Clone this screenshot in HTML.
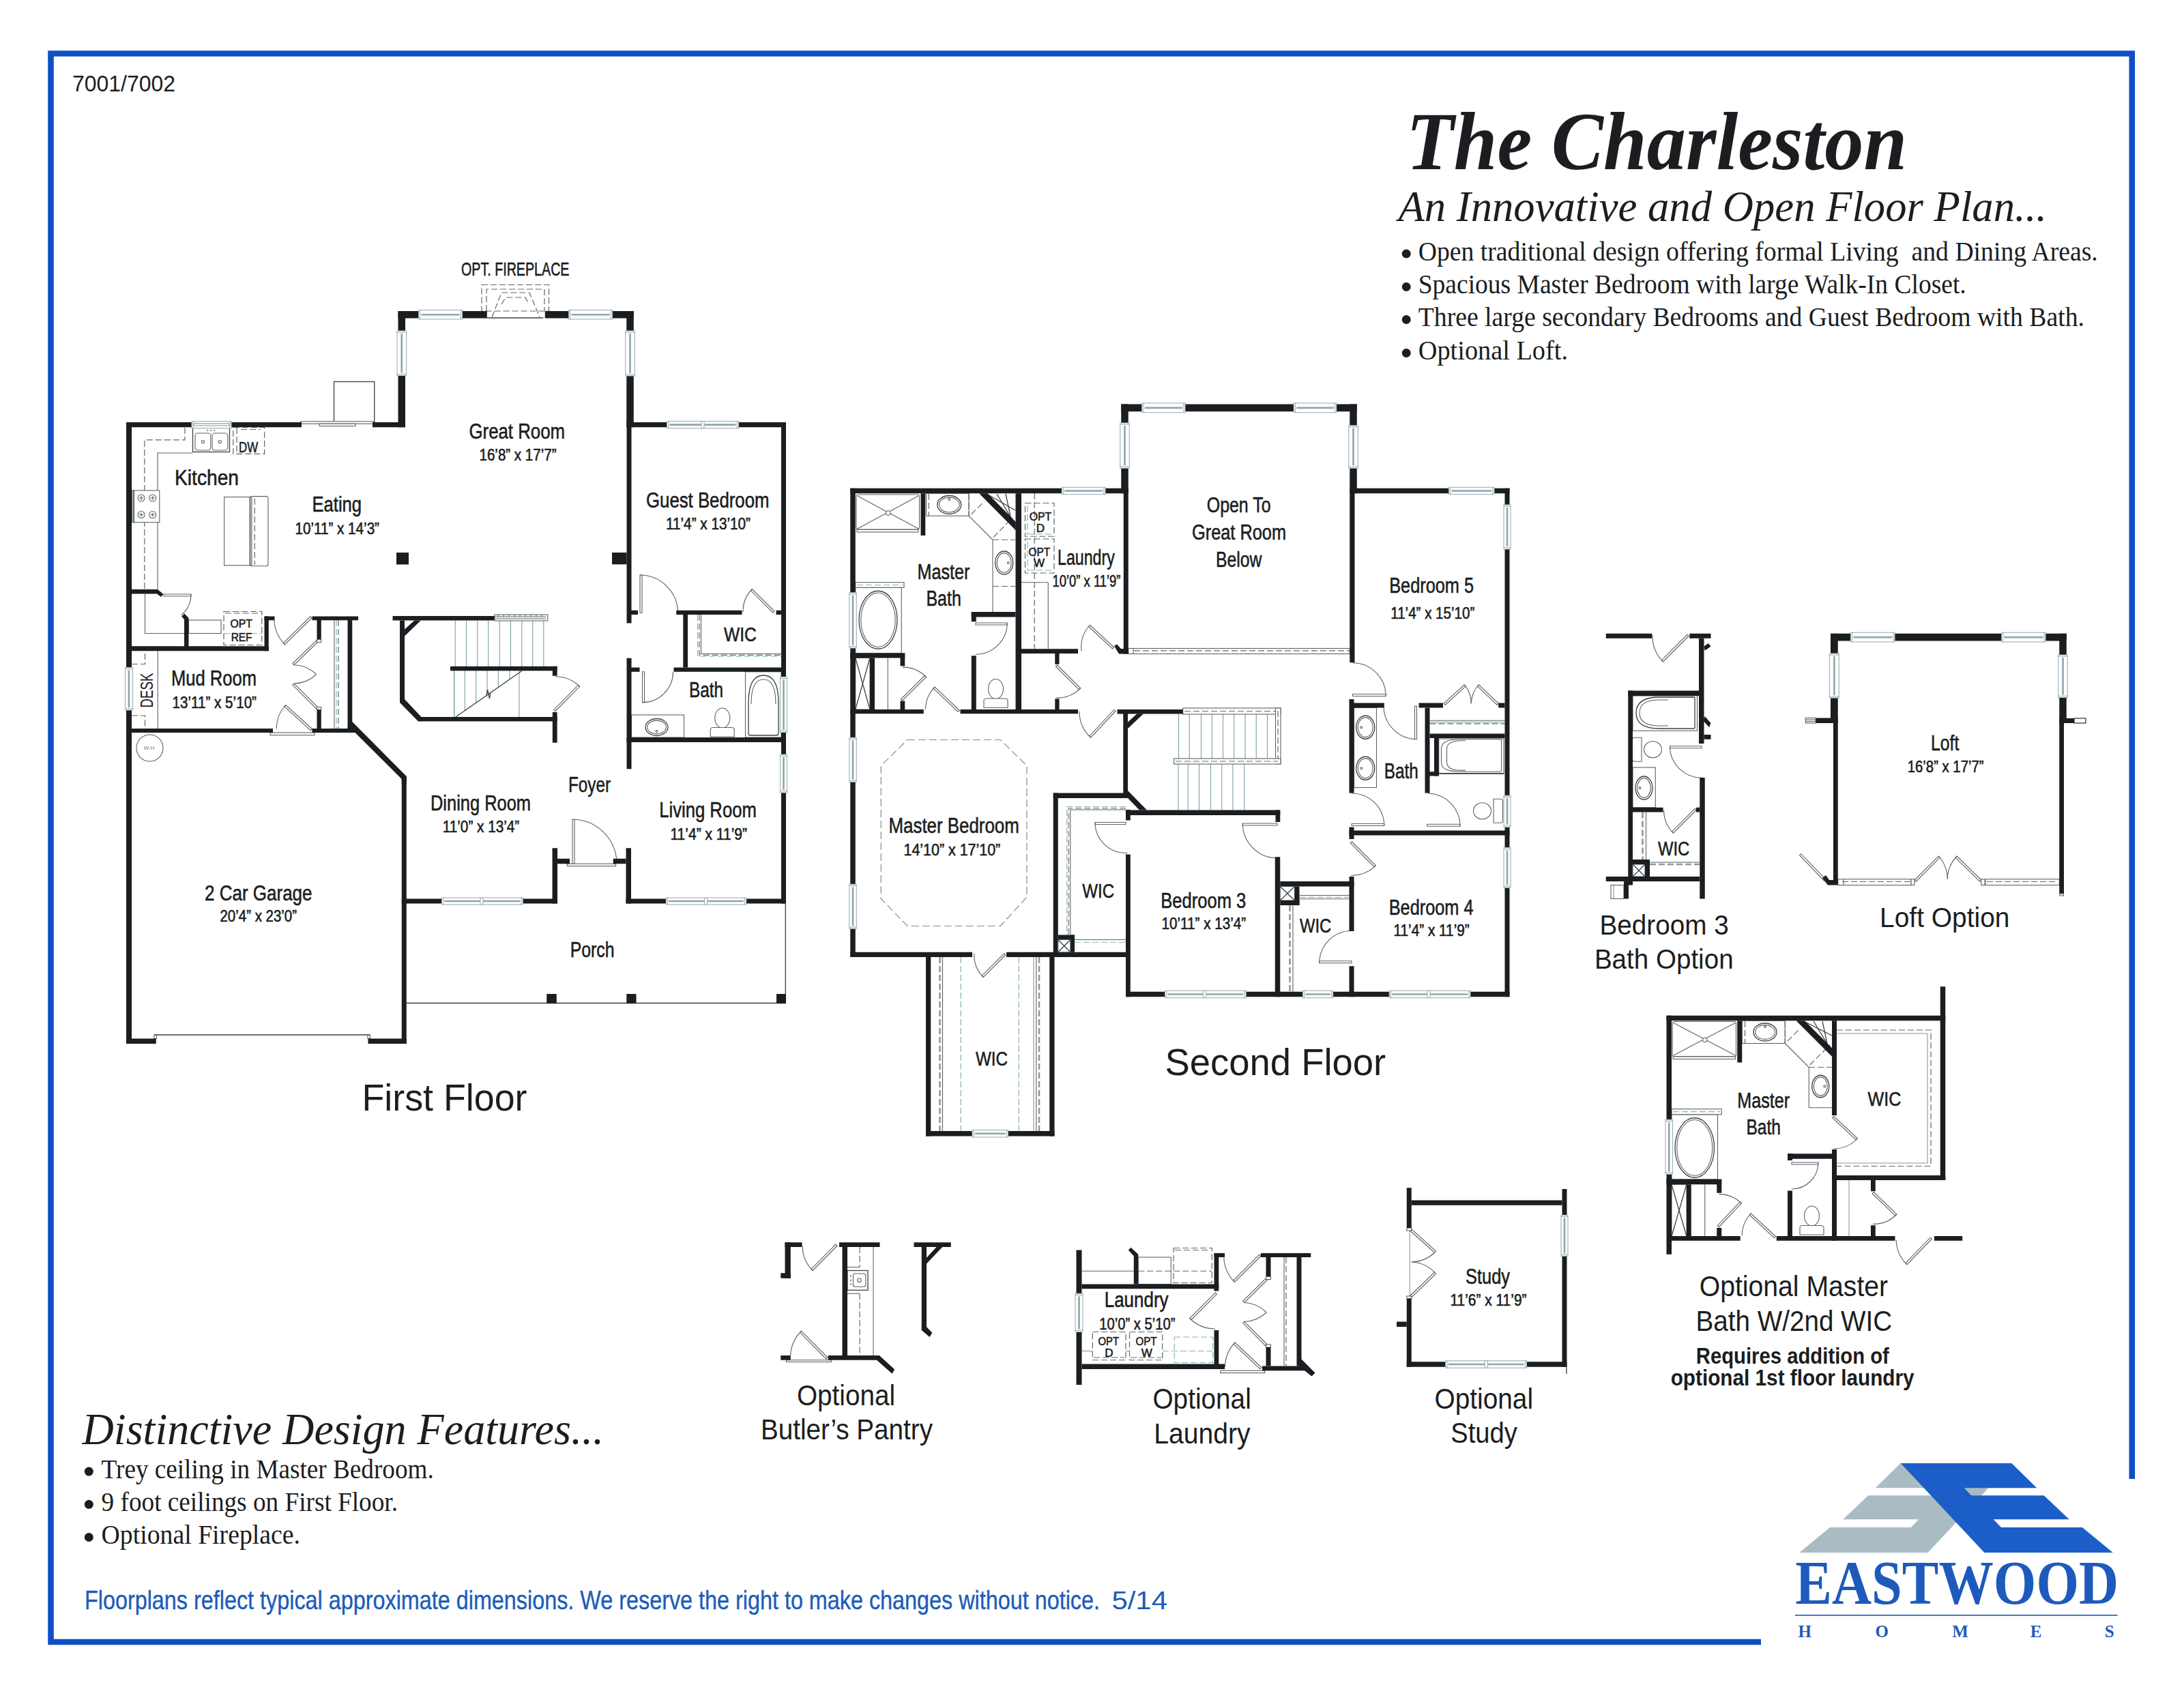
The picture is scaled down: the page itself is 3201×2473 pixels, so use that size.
<!DOCTYPE html>
<html><head><meta charset="utf-8">
<style>
html,body{margin:0;padding:0;background:#fff;}
body{width:3201px;height:2473px;overflow:hidden;font-family:"Liberation Sans",sans-serif;}
svg{position:absolute;left:0;top:0;display:block}
.w{fill:#1b1d20;stroke:none}
.t{stroke:#5b6366;stroke-width:1.1;fill:none}
.tk{stroke:#3a4043;stroke-width:1.3;fill:none}
.tc{stroke:#7b9ea3;stroke-width:1.1;fill:none}
.tw{stroke:#5b6366;stroke-width:1.1;fill:#fff}
.d{stroke:#5f686b;stroke-width:1.2;fill:none;stroke-dasharray:9 4}
.dc{stroke:#86b3b6;stroke-width:1.2;fill:none;stroke-dasharray:9 4}
.dk2{stroke:#9a9499;stroke-width:1.6;fill:none;stroke-dasharray:9 4}
.dg{stroke:#7c8f92;stroke-width:1.2;fill:none;stroke-dasharray:11 5}
.dk{stroke:#9a9499;stroke-width:2.6;fill:none;stroke-dasharray:9 4}
.win{fill:#fff;stroke:#9db0b5;stroke-width:1.1}
.wbar{stroke:#8ea6ab;stroke-width:2.6;fill:none}
.wing{fill:#e9eef0;stroke:#7d8f95;stroke-width:0.8}
.wl2{stroke:#8fa5ab;stroke-width:0.9;fill:none}
text{font-family:"Liberation Sans",sans-serif;fill:#1b1d20}
.lb{fill:#1c5ec8}.lg{fill:#a9bcc3}
.c{stroke:#1b1d20;stroke-width:0.6px}
.s{font-family:"Liberation Serif",serif}
</style></head><body>
<svg width="3201" height="2473" viewBox="0 0 3201 2473">
<path d="M2581 2407H74.5V78.5H3124.8V2168" fill="none" stroke="#0f4fc6" stroke-width="8.6"/>
<g id="f1">
<line class="tk" x1="595.75" y1="1470.5" x2="1152" y2="1470.5"/>
<line class="tk" x1="1151.3" y1="1324.5" x2="1151.3" y2="1470.5"/>
<line class="tk" x1="226" y1="1517" x2="542.5" y2="1517"/>
<rect class="t" x="226" y="1517" width="3.5" height="5.5"/>
<rect class="t" x="539" y="1517" width="3.5" height="5.5"/>
<rect class="tk" x="489.5" y="559.5" width="59.25" height="59.25"/>
<rect class="tw" x="441" y="617.8" width="106.5" height="3.4"/>
<rect class="tw" x="468" y="621.2" width="53" height="3.4"/>
<polyline class="d" points="270.9,627 270.9,644.8 211.8,644.8 211.8,864"/>
<polyline class="t" points="282,664 231,664 231,864"/>
<polyline class="t" points="212.5,870.5 212.5,928.5 270,928.5"/>
<line class="dc" x1="276.5" y1="928.5" x2="384" y2="928.5"/>
<rect class="tk" x="282.5" y="627" width="54" height="35.5"/>
<rect class="t" x="286" y="635" width="22.75" height="25" rx="4"/>
<rect class="t" x="311" y="635" width="22.75" height="25" rx="4"/>
<circle class="t" cx="297.5" cy="647.5" r="2"/>
<circle class="t" cx="322.3" cy="647.5" r="2"/>
<circle cx="304.3" cy="631" r="0.9" fill="#555"/>
<circle cx="309.3" cy="631" r="0.9" fill="#555"/>
<circle cx="314.3" cy="631" r="0.9" fill="#555"/>
<rect class="d" x="341.8" y="626.5" width="45.8" height="38.9"/>
<line class="d" x1="347" y1="627" x2="347" y2="665"/>
<line class="d" x1="353" y1="629.5" x2="382" y2="629.5"/>
<rect class="tw" x="195.3" y="719" width="38.5" height="46.7"/>
<rect class="t" x="193.5" y="719" width="3" height="46.7"/>
<circle class="t" cx="207" cy="730" r="5"/>
<line class="t" x1="204" y1="730" x2="210" y2="730"/>
<line class="t" x1="207" y1="727" x2="207" y2="733"/>
<circle class="t" cx="207" cy="754.5" r="5"/>
<line class="t" x1="204" y1="754.5" x2="210" y2="754.5"/>
<line class="t" x1="207" y1="751.5" x2="207" y2="757.5"/>
<circle class="t" cx="223.75" cy="730" r="5"/>
<line class="t" x1="220.75" y1="730" x2="226.75" y2="730"/>
<line class="t" x1="223.75" y1="727" x2="223.75" y2="733"/>
<circle class="t" cx="223.75" cy="754.5" r="5"/>
<line class="t" x1="220.75" y1="754.5" x2="226.75" y2="754.5"/>
<line class="t" x1="223.75" y1="751.5" x2="223.75" y2="757.5"/>
<rect class="t" x="328.6" y="728.6" width="38.4" height="100.2"/>
<rect class="t" x="366" y="727.6" width="27" height="102.2" rx="3"/>
<line class="t" x1="369" y1="729" x2="369" y2="829"/>
<line class="d" x1="373.3" y1="731" x2="373.3" y2="828"/>
<rect class="d" x="328" y="896.5" width="55.75" height="49"/>
<line class="d" x1="330" y1="899" x2="382" y2="899"/>
<rect class="t" x="276.5" y="909" width="47.5" height="19.5"/>
<polyline class="d" points="193,973.5 212.5,973.5 212.5,954"/>
<polyline class="d" points="193,1049 212.5,1049 212.5,1068"/>
<line class="t" x1="231.25" y1="954" x2="231.25" y2="1068"/>
<circle class="t" cx="219.5" cy="1096.5" r="19.5"/>
<text x="219.5" y="1099" font-size="8" text-anchor="middle" style="fill:#777">W.H.</text>
<line class="t" x1="490" y1="909" x2="490" y2="1068"/>
<line class="dc" x1="493" y1="909" x2="493" y2="1068"/>
<line class="d" x1="496" y1="909" x2="496" y2="1068"/>
<rect class="t" x="396" y="1074" width="65" height="3.7"/>
<line class="tc" x1="667.2" y1="909.5" x2="667.2" y2="977"/>
<line class="tc" x1="683.5" y1="909.5" x2="683.5" y2="977"/>
<line class="tc" x1="699.8" y1="909.5" x2="699.8" y2="977"/>
<line class="tc" x1="715.7" y1="909.5" x2="715.7" y2="977"/>
<line class="tc" x1="732.2" y1="909.5" x2="732.2" y2="977"/>
<line class="tc" x1="748.5" y1="909.5" x2="748.5" y2="977"/>
<line class="tc" x1="764.8" y1="909.5" x2="764.8" y2="977"/>
<line class="tc" x1="780.7" y1="909.5" x2="780.7" y2="977"/>
<line class="tc" x1="796.8" y1="909.5" x2="796.8" y2="977"/>
<line class="tc" x1="665.7" y1="983.3" x2="665.7" y2="1051"/>
<line class="tc" x1="681.4" y1="983.3" x2="681.4" y2="1041.6"/>
<line class="tc" x1="697.7" y1="983.3" x2="697.7" y2="1030.24"/>
<line class="tc" x1="714" y1="983.3" x2="714" y2="1018.89"/>
<line class="tc" x1="730.3" y1="983.3" x2="730.3" y2="1007.54"/>
<line class="tc" x1="747" y1="983.3" x2="747" y2="995.91"/>
<line class="tc" x1="665.7" y1="983" x2="665.7" y2="1051"/>
<line class="tc" x1="760.9" y1="983.3" x2="760.9" y2="1051"/>
<line class="tk" x1="667.9" y1="1051" x2="765.1" y2="983.3"/>
<polyline class="tk" points="713,1019.5 714.5,1011 717.5,1024 719,1015"/>
<rect class="tw" x="724.7" y="901" width="78" height="9"/>
<line class="t" x1="724.7" y1="904" x2="800" y2="904"/>
<line class="t" x1="724.7" y1="907" x2="800" y2="907"/>
<line class="t" x1="730" y1="901" x2="730" y2="904"/>
<line class="t" x1="738" y1="901" x2="738" y2="904"/>
<line class="t" x1="746" y1="901" x2="746" y2="904"/>
<line class="t" x1="754" y1="901" x2="754" y2="904"/>
<line class="t" x1="762" y1="901" x2="762" y2="904"/>
<line class="t" x1="770" y1="901" x2="770" y2="904"/>
<line class="t" x1="778" y1="901" x2="778" y2="904"/>
<line class="t" x1="786" y1="901" x2="786" y2="904"/>
<line class="t" x1="794" y1="901" x2="794" y2="904"/>
<rect class="d" x="706" y="417.5" width="98.5" height="38.5"/>
<polyline class="d" points="713,456 713,424 798,424 798,456"/>
<line class="tk" x1="713.75" y1="466" x2="796.25" y2="466"/>
<polyline class="d" points="721,465 735,429 776,429 791,465"/>
<polyline class="d" points="735,446 741,436 770,436 775,446"/>
<polyline class="dc" points="1022.5,901 1022.5,962.25 1145,962.25"/>
<polyline class="t" points="1027.5,901 1027.5,958.5 1145,958.5"/>
<polyline class="d" points="1025,901 1025,960.4 1145,960.4"/>
<rect class="t" x="925.5" y="1048" width="77" height="33"/>
<ellipse class="tk" cx="962.5" cy="1066" rx="16.5" ry="12.5"/>
<ellipse class="t" cx="962.5" cy="1066" rx="13.9" ry="9.9"/>
<circle class="t" cx="962.5" cy="1072" r="1.4"/>
<ellipse class="t" cx="1058.75" cy="1052.5" rx="11" ry="14.5"/>
<path class="tw" d="M1041.25 1069.5q0 -3 4 -3h27q4 0 4 3v10.5h-35z"/>
<rect class="t" x="1092.5" y="984.75" width="52.5" height="96.25"/>
<path class="tk" d="M1097 1075V1030Q1097 990 1119 990Q1141 990 1141 1030V1075Q1141 1078 1138 1078H1100Q1097 1078 1097 1075Z"/>
<path class="t" d="M1101 1032Q1101 996 1119 996Q1137 996 1137 1032"/>
<polygon class="tw" points="240,871 280,871 280,874 240,874"/>
<path class="t" d="M280 871A40 40 0 0 1 265.84 901.54"/>
<polygon class="tw" points="457,906 417.5,944.75 415.4,942.61 454.9,903.86"/>
<path class="t" d="M417.5 944.75A55.33 55.33 0 0 1 401.72 908.47"/>
<polygon class="tw" points="457.5,1068.5 418.75,1033.5 416.74,1035.73 455.49,1070.73"/>
<path class="t" d="M418.75 1033.5A52.22 52.22 0 0 0 405.28 1068.5"/>
<polygon class="tw" points="466,941 431,974.75 428.92,972.59 463.92,938.84"/>
<polygon class="tw" points="466,1037 431,1002 428.88,1004.12 463.88,1039.12"/>
<path class="t" d="M431 974.75A50 50 0 0 1 463.75 988.5"/>
<path class="t" d="M431 1002A50 50 0 0 0 463.75 988.5"/>
<rect class="tw" x="464.5" y="937.25" width="6.25" height="4.25"/>
<rect class="tw" x="464.5" y="1036.5" width="6.25" height="4"/>
<polygon class="tw" points="814,1042.5 849.6,1006.3 847.46,1004.2 811.86,1040.4"/>
<path class="t" d="M849.6 1006.3A50.77 50.77 0 0 0 814 991.73"/>
<polygon class="tw" points="938,898.5 938,843 941,843 941,898.5"/>
<path class="t" d="M938 843A55.5 55.5 0 0 1 993.48 897.17"/>
<polygon class="tw" points="1135,896 1102.5,863.5 1100.38,865.62 1132.88,898.12"/>
<path class="t" d="M1102.5 863.5A45.96 45.96 0 0 0 1089.05 897.24"/>
<polygon class="tw" points="941.5,984.75 941.5,1029.75 944.5,1029.75 944.5,984.75"/>
<path class="t" d="M941.5 1029.75A45 45 0 0 0 986.5 984.75"/>
<polygon class="tw" points="839,1266.25 839,1201.25 842,1201.25 842,1266.25"/>
<path class="t" d="M839 1201.25A65 65 0 0 1 903.81 1261.33"/>
<rect class="t" x="831.25" y="1266.25" width="71.25" height="3.35"/>
<rect class="w" x="185" y="619" width="8" height="911"/>
<rect class="w" x="185" y="619" width="96" height="7.3"/>
<rect class="w" x="339" y="619" width="103" height="7.3"/>
<rect class="w" x="546" y="619" width="48" height="7.3"/>
<rect class="w" x="583.5" y="456" width="10.5" height="170.3"/>
<rect class="w" x="583.5" y="456" width="30.25" height="10.5"/>
<rect class="w" x="677.5" y="456" width="36.25" height="10.5"/>
<rect class="w" x="798.75" y="456" width="35" height="10.5"/>
<rect class="w" x="897.5" y="456" width="31.25" height="10.5"/>
<rect class="w" x="918.25" y="456" width="10.5" height="170.3"/>
<rect class="w" x="918.5" y="619" width="7" height="294.5"/>
<rect class="w" x="918.5" y="964.75" width="7" height="162.5"/>
<rect class="w" x="918.5" y="619" width="59" height="7.3"/>
<rect class="w" x="1082.5" y="619" width="69.5" height="7.3"/>
<rect class="w" x="1145" y="619" width="7" height="705.5"/>
<rect class="w" x="897" y="810" width="21.5" height="17.3"/>
<rect class="w" x="581" y="810" width="18" height="17.5"/>
<polygon class="w" points="193,864 231,864 239.5,871 236,875 230,870.5 193,870.5"/>
<polygon class="w" points="266,903.5 270.5,899.5 276.5,906 276.5,948 270,948 270,908"/>
<rect class="w" x="193" y="947.25" width="200.75" height="7"/>
<rect class="w" x="387.5" y="903.5" width="6.25" height="50.75"/>
<rect class="w" x="387.5" y="903.5" width="15" height="5.75"/>
<rect class="w" x="457.5" y="903.5" width="67.5" height="5.75"/>
<rect class="w" x="464.5" y="909" width="6.25" height="28.25"/>
<rect class="w" x="464.5" y="1040.5" width="6.25" height="28"/>
<rect class="w" x="509.5" y="909" width="6.75" height="161"/>
<rect class="w" x="193" y="1068" width="207" height="6"/>
<rect class="w" x="457.5" y="1068" width="65" height="6"/>
<polygon class="w" points="516.25,1058 595.75,1138 595.75,1150 588.75,1150 588.75,1142 520.5,1074 509.5,1074 509.5,1066"/>
<rect class="w" x="588.75" y="1138" width="7" height="392"/>
<rect class="w" x="185" y="1522.5" width="43.75" height="7.5"/>
<rect class="w" x="539.5" y="1522.5" width="56.25" height="7.5"/>
<rect class="w" x="575.5" y="903" width="149.2" height="6.5"/>
<rect class="w" x="586" y="909.5" width="7" height="116.5"/>
<polygon class="w" points="593,922.6 593,932.5 616.8,909.5 607.5,909.5"/>
<polygon class="w" points="586,1026 593,1025 617.5,1051 617.5,1057.4 613,1057.4 586,1030"/>
<rect class="w" x="616.8" y="1051" width="199.8" height="6.4"/>
<rect class="w" x="809.8" y="1044" width="6.8" height="44.7"/>
<rect class="w" x="660" y="976.8" width="156.6" height="6.5"/>
<rect class="w" x="809.8" y="976.8" width="6.8" height="13.9"/>
<rect class="w" x="925" y="894.75" width="10" height="6.25"/>
<rect class="w" x="991.25" y="894.75" width="96.25" height="6.25"/>
<rect class="w" x="1137.5" y="894.75" width="7.5" height="6.25"/>
<rect class="w" x="1001.25" y="901" width="6.75" height="77.5"/>
<rect class="w" x="987.5" y="978.5" width="158.5" height="6.25"/>
<rect class="w" x="925" y="978.5" width="12.5" height="6.25"/>
<rect class="w" x="918.5" y="1081" width="227.5" height="7"/>
<rect class="w" x="809.5" y="1243.25" width="7.5" height="81.25"/>
<rect class="w" x="766.25" y="1317.5" width="50.75" height="7"/>
<rect class="w" x="817" y="1258.75" width="18" height="7.5"/>
<rect class="w" x="898.75" y="1258.75" width="18.75" height="7.5"/>
<rect class="w" x="917.5" y="1243.25" width="7.5" height="81.25"/>
<rect class="w" x="917.5" y="1317.5" width="58.75" height="7"/>
<rect class="w" x="1093.75" y="1317.5" width="58.25" height="7"/>
<rect class="w" x="588.75" y="1317.5" width="58.75" height="7"/>
<rect class="w" x="801.25" y="1457" width="14.5" height="14"/>
<rect class="w" x="918.25" y="1457" width="14.25" height="14"/>
<rect class="w" x="1138" y="1457" width="14" height="14"/>
<rect class="win" x="281" y="617.5" width="58" height="10.3"/>
<line class="wbar" x1="285" y1="622.65" x2="335" y2="622.65"/>
<line class="wl2" x1="283.2" y1="617.5" x2="283.2" y2="627.8"/>
<line class="wl2" x1="336.8" y1="617.5" x2="336.8" y2="627.8"/>
<rect class="wing" x="284" y="620.5" width="52" height="3.5"/>
<rect class="win" x="613.75" y="454.5" width="63.75" height="13.5"/>
<line class="wbar" x1="617.75" y1="461.25" x2="673.5" y2="461.25"/>
<line class="wl2" x1="615.95" y1="454.5" x2="615.95" y2="468"/>
<line class="wl2" x1="675.3" y1="454.5" x2="675.3" y2="468"/>
<rect class="win" x="833.75" y="454.5" width="63.75" height="13.5"/>
<line class="wbar" x1="837.75" y1="461.25" x2="893.5" y2="461.25"/>
<line class="wl2" x1="835.95" y1="454.5" x2="835.95" y2="468"/>
<line class="wl2" x1="895.3" y1="454.5" x2="895.3" y2="468"/>
<rect class="win" x="582" y="485" width="13.5" height="65.5"/>
<line class="wbar" x1="588.75" y1="489" x2="588.75" y2="546.5"/>
<line class="wl2" x1="582" y1="487.2" x2="595.5" y2="487.2"/>
<line class="wl2" x1="582" y1="548.3" x2="595.5" y2="548.3"/>
<rect class="win" x="916.75" y="485" width="13.5" height="66"/>
<line class="wbar" x1="923.5" y1="489" x2="923.5" y2="547"/>
<line class="wl2" x1="916.75" y1="487.2" x2="930.25" y2="487.2"/>
<line class="wl2" x1="916.75" y1="548.8" x2="930.25" y2="548.8"/>
<rect class="win" x="977.5" y="617.5" width="105" height="10.3"/>
<line class="wbar" x1="981.5" y1="622.65" x2="1078.5" y2="622.65"/>
<line class="wl2" x1="979.7" y1="617.5" x2="979.7" y2="627.8"/>
<line class="wl2" x1="1080.3" y1="617.5" x2="1080.3" y2="627.8"/>
<rect class="win" x="1028" y="617.5" width="4" height="10.3"/>
<rect class="win" x="183.5" y="978.5" width="11" height="62.5"/>
<line class="wbar" x1="189" y1="982.5" x2="189" y2="1037"/>
<line class="wl2" x1="183.5" y1="980.7" x2="194.5" y2="980.7"/>
<line class="wl2" x1="183.5" y1="1038.8" x2="194.5" y2="1038.8"/>
<rect class="win" x="1143.5" y="992.25" width="10" height="81.25"/>
<line class="wbar" x1="1148.5" y1="996.25" x2="1148.5" y2="1069.5"/>
<line class="wl2" x1="1143.5" y1="994.45" x2="1153.5" y2="994.45"/>
<line class="wl2" x1="1143.5" y1="1071.3" x2="1153.5" y2="1071.3"/>
<rect class="win" x="1143.5" y="1106" width="10" height="56"/>
<line class="wbar" x1="1148.5" y1="1110" x2="1148.5" y2="1158"/>
<line class="wl2" x1="1143.5" y1="1108.2" x2="1153.5" y2="1108.2"/>
<line class="wl2" x1="1143.5" y1="1159.8" x2="1153.5" y2="1159.8"/>
<rect class="win" x="647.5" y="1316" width="118.75" height="10"/>
<line class="wbar" x1="651.5" y1="1321" x2="762.25" y2="1321"/>
<line class="wl2" x1="649.7" y1="1316" x2="649.7" y2="1326"/>
<line class="wl2" x1="764.05" y1="1316" x2="764.05" y2="1326"/>
<rect class="win" x="704" y="1316" width="4" height="10"/>
<rect class="win" x="976.25" y="1316" width="117.5" height="10"/>
<line class="wbar" x1="980.25" y1="1321" x2="1089.75" y2="1321"/>
<line class="wl2" x1="978.45" y1="1316" x2="978.45" y2="1326"/>
<line class="wl2" x1="1091.55" y1="1316" x2="1091.55" y2="1326"/>
<rect class="win" x="1032.5" y="1316" width="4" height="10"/>
<text x="256" y="711" font-size="31" text-anchor="start" textLength="94" lengthAdjust="spacingAndGlyphs" class="c">Kitchen</text>
<text x="457.5" y="750" font-size="32" text-anchor="start" textLength="72.5" lengthAdjust="spacingAndGlyphs" class="c">Eating</text>
<text x="687.5" y="642.5" font-size="32" text-anchor="start" textLength="140.5" lengthAdjust="spacingAndGlyphs" class="c">Great Room</text>
<text x="947" y="743.75" font-size="32" text-anchor="start" textLength="180.5" lengthAdjust="spacingAndGlyphs" class="c">Guest Bedroom</text>
<text x="251" y="1004.75" font-size="32" text-anchor="start" textLength="125" lengthAdjust="spacingAndGlyphs" class="c">Mud Room</text>
<text x="1061" y="939.75" font-size="29" text-anchor="start" textLength="47.75" lengthAdjust="spacingAndGlyphs" class="c">WIC</text>
<text x="1010" y="1022" font-size="32" text-anchor="start" textLength="50" lengthAdjust="spacingAndGlyphs" class="c">Bath</text>
<text x="833" y="1161" font-size="32" text-anchor="start" textLength="62" lengthAdjust="spacingAndGlyphs" class="c">Foyer</text>
<text x="631" y="1187.5" font-size="32" text-anchor="start" textLength="147" lengthAdjust="spacingAndGlyphs" class="c">Dining Room</text>
<text x="966.25" y="1198" font-size="32" text-anchor="start" textLength="142.5" lengthAdjust="spacingAndGlyphs" class="c">Living Room</text>
<text x="300" y="1319.5" font-size="32" text-anchor="start" textLength="157.5" lengthAdjust="spacingAndGlyphs" class="c">2 Car Garage</text>
<text x="835.75" y="1402.5" font-size="32" text-anchor="start" textLength="64.75" lengthAdjust="spacingAndGlyphs" class="c">Porch</text>
<text x="432.5" y="782.5" font-size="23.5" text-anchor="start" textLength="123.5" lengthAdjust="spacingAndGlyphs" class="c">10’11” x 14’3”</text>
<text x="702.5" y="674.5" font-size="23.5" text-anchor="start" textLength="113" lengthAdjust="spacingAndGlyphs" class="c">16’8” x 17’7”</text>
<text x="976" y="776" font-size="23.5" text-anchor="start" textLength="124" lengthAdjust="spacingAndGlyphs" class="c">11’4” x 13’10”</text>
<text x="252.5" y="1038" font-size="23.5" text-anchor="start" textLength="123.5" lengthAdjust="spacingAndGlyphs" class="c">13’11” x 5’10”</text>
<text x="648.75" y="1220" font-size="23.5" text-anchor="start" textLength="112.5" lengthAdjust="spacingAndGlyphs" class="c">11’0” x 13’4”</text>
<text x="982.5" y="1230.5" font-size="23.5" text-anchor="start" textLength="112.5" lengthAdjust="spacingAndGlyphs" class="c">11’4” x 11’9”</text>
<text x="322.5" y="1351" font-size="23.5" text-anchor="start" textLength="112.5" lengthAdjust="spacingAndGlyphs" class="c">20’4” x 23’0”</text>
<text x="676" y="403.75" font-size="27.5" text-anchor="start" textLength="158.5" lengthAdjust="spacingAndGlyphs" class="c">OPT. FIREPLACE</text>
<text x="350" y="662.5" font-size="22" text-anchor="start" textLength="28" lengthAdjust="spacingAndGlyphs" class="c">DW</text>
<text x="337.5" y="919.75" font-size="17" text-anchor="start" textLength="32.5" lengthAdjust="spacingAndGlyphs" class="c">OPT</text>
<text x="338.75" y="939.75" font-size="17" text-anchor="start" textLength="30.75" lengthAdjust="spacingAndGlyphs" class="c">REF</text>
<text transform="translate(223.5,1037.5) rotate(-90)" font-size="26" textLength="51" lengthAdjust="spacingAndGlyphs">DESK</text>
<text x="530.5" y="1627.5" font-size="56" text-anchor="start" textLength="242" lengthAdjust="spacingAndGlyphs">First Floor</text>
</g>
<g id="f2">
<rect class="t" x="1255" y="725" width="92.5" height="51.25" rx="3"/>
<line class="t" x1="1257" y1="727" x2="1346" y2="775"/>
<line class="t" x1="1257" y1="775" x2="1346" y2="727"/>
<circle class="tw" cx="1301.75" cy="752" r="3.2"/>
<rect class="t" x="1256" y="776.25" width="90" height="3.75"/>
<rect class="t" x="1357.5" y="723.25" width="62.5" height="33"/>
<line class="d" x1="1361.25" y1="724" x2="1361.25" y2="756"/>
<line class="d" x1="1420" y1="724" x2="1420" y2="756"/>
<ellipse class="tk" cx="1391.25" cy="740" rx="17.5" ry="13.5"/>
<ellipse class="t" cx="1391.25" cy="740" rx="14.9" ry="10.9"/>
<circle class="t" cx="1391.25" cy="732" r="1.4"/>
<polyline class="t" points="1420,756.25 1455,791.25 1455,897"/>
<line class="d" x1="1423.75" y1="753.75" x2="1442.5" y2="735"/>
<line class="d" x1="1456" y1="787.5" x2="1484" y2="759"/>
<line class="d" x1="1455" y1="791.25" x2="1488" y2="791.25"/>
<line class="d" x1="1455" y1="859.5" x2="1488" y2="859.5"/>
<line class="tk" x1="1448" y1="725" x2="1488" y2="748"/>
<line class="tk" x1="1461" y1="724" x2="1487" y2="768"/>
<line class="tk" x1="1474" y1="724" x2="1481" y2="757"/>
<ellipse class="tk" cx="1471.75" cy="825" rx="13" ry="17"/>
<ellipse class="t" cx="1471.75" cy="825" rx="10.4" ry="14.4"/>
<circle class="t" cx="1477.75" cy="825" r="1.4"/>
<ellipse class="t" cx="1459.5" cy="1010" rx="11" ry="14.5"/>
<path class="tw" d="M1442 1027q0 -3 4 -3h27q4 0 4 3v10.5h-35z"/>
<rect class="t" x="1253.75" y="861.25" width="67.5" height="96.25"/>
<rect class="tw" x="1253.75" y="853.75" width="71.25" height="7.5"/>
<line class="dc" x1="1256" y1="857.5" x2="1323" y2="857.5"/>
<ellipse class="tk" cx="1287" cy="908.75" rx="28" ry="42.5"/>
<ellipse class="t" cx="1287" cy="908.75" rx="25.2" ry="39.7"/>
<rect class="tw" x="1253.75" y="964.5" width="21.25" height="75.5"/>
<line class="tk" x1="1253.75" y1="964.5" x2="1275" y2="1040"/>
<line class="tk" x1="1253.75" y1="1040" x2="1275" y2="964.5"/>
<line class="t" x1="1301.25" y1="964.5" x2="1301.25" y2="1040"/>
<rect class="d" x="1502.5" y="737.5" width="42.5" height="48.75"/>
<rect class="d" x="1502.5" y="790" width="42.5" height="50"/>
<line class="dc" x1="1506" y1="741" x2="1506" y2="783"/>
<line class="dc" x1="1506" y1="794" x2="1506" y2="836"/>
<line class="dc" x1="1506" y1="836" x2="1541" y2="836"/>
<line class="dc" x1="1506" y1="783" x2="1541" y2="783"/>
<line class="d" x1="1516.25" y1="723" x2="1516.25" y2="951"/>
<line class="t" x1="1536.25" y1="853.75" x2="1536.25" y2="951"/>
<line class="t" x1="1497" y1="853.75" x2="1536.25" y2="853.75"/>
<rect class="tw" x="1653.75" y="950.5" width="324.5" height="8"/>
<line class="d" x1="1662" y1="953.8" x2="1978" y2="953.8"/>
<line class="t" x1="1661" y1="950.5" x2="1661" y2="958.5"/>
<line class="t" x1="2095.5" y1="1056.25" x2="2205.5" y2="1056.25"/>
<line class="tc" x1="2095.5" y1="1058.75" x2="2205.5" y2="1058.75"/>
<line class="d" x1="2095.5" y1="1060.8" x2="2205.5" y2="1060.8"/>
<rect class="t" x="1984.5" y="1037.5" width="33" height="117"/>
<ellipse class="tk" cx="2001.25" cy="1066.25" rx="13.5" ry="17"/>
<ellipse class="t" cx="2001.25" cy="1066.25" rx="10.9" ry="14.4"/>
<circle class="t" cx="1995.25" cy="1066.25" r="1.4"/>
<ellipse class="tk" cx="2001.25" cy="1126.25" rx="13.5" ry="17"/>
<ellipse class="t" cx="2001.25" cy="1126.25" rx="10.9" ry="14.4"/>
<circle class="t" cx="1995.25" cy="1126.25" r="1.4"/>
<rect class="t" x="2108.75" y="1083" width="95.25" height="51.4"/>
<line class="tk" x1="2109" y1="1133.6" x2="2204" y2="1133.6"/>
<path class="t" d="M2200.6 1086V1129Q2200.6 1131.2 2198 1131.2H2140Q2112.5 1131.2 2112.5 1118V1097Q2112.5 1083.8 2140 1083.8H2198Q2200.6 1083.8 2200.6 1086Z"/>
<path class="t" d="M2148 1085.8H2142Q2120.5 1085.8 2120.5 1098V1117Q2120.5 1129.4 2142 1129.4H2148"/>
<path class="tw" d="M2199.5 1171.25q3 0 3 4v27q0 4 -3 4h-10.5v-35z"/>
<ellipse class="tw" cx="2172.5" cy="1188.75" rx="13" ry="12"/>
<line class="tc" x1="1727.5" y1="1047" x2="1727.5" y2="1112"/>
<line class="tc" x1="1743.25" y1="1047" x2="1743.25" y2="1112"/>
<line class="tc" x1="1760.5" y1="1047" x2="1760.5" y2="1112"/>
<line class="tc" x1="1776.25" y1="1047" x2="1776.25" y2="1112"/>
<line class="tc" x1="1792.5" y1="1047" x2="1792.5" y2="1112"/>
<line class="tc" x1="1808.75" y1="1047" x2="1808.75" y2="1112"/>
<line class="tc" x1="1825" y1="1047" x2="1825" y2="1112"/>
<line class="tc" x1="1841.25" y1="1047" x2="1841.25" y2="1112"/>
<line class="tc" x1="1857.5" y1="1047" x2="1857.5" y2="1112"/>
<line class="tc" x1="1727" y1="1120" x2="1727" y2="1187.5"/>
<line class="tc" x1="1741.25" y1="1120" x2="1741.25" y2="1187.5"/>
<line class="tc" x1="1757.5" y1="1120" x2="1757.5" y2="1187.5"/>
<line class="tc" x1="1774.5" y1="1120" x2="1774.5" y2="1187.5"/>
<line class="tc" x1="1790.75" y1="1120" x2="1790.75" y2="1187.5"/>
<line class="tc" x1="1807" y1="1120" x2="1807" y2="1187.5"/>
<line class="tc" x1="1823.75" y1="1120" x2="1823.75" y2="1187.5"/>
<rect class="tw" x="1733.75" y="1038" width="143.25" height="9"/>
<line class="d" x1="1736" y1="1042.5" x2="1872" y2="1042.5"/>
<rect class="tw" x="1869.5" y="1038" width="7.5" height="82"/>
<line class="d" x1="1873" y1="1042" x2="1873" y2="1116"/>
<rect class="tw" x="1720.5" y="1112" width="156.5" height="8"/>
<line class="d" x1="1723" y1="1116" x2="1873" y2="1116"/>
<line class="t" x1="1904.5" y1="1312.5" x2="1977.5" y2="1312.5"/>
<line class="dc" x1="1904.5" y1="1315.3" x2="1977.5" y2="1315.3"/>
<line class="t" x1="1904.5" y1="1317.8" x2="1977.5" y2="1317.8"/>
<line class="dk" x1="1890.5" y1="1327" x2="1890.5" y2="1453.75"/>
<line class="t" x1="1895" y1="1327" x2="1895" y2="1453.75"/>
<polyline class="dc" points="1650,1182.5 1563.75,1182.5 1563.75,1378"/>
<polyline class="t" points="1650,1187 1568.75,1187 1568.75,1370"/>
<polyline class="dk2" points="1650,1184.7 1566.2,1184.7 1566.2,1372"/>
<line class="t" x1="1575" y1="1377.5" x2="1650" y2="1377.5"/>
<line class="dc" x1="1575" y1="1381.25" x2="1650" y2="1381.25"/>
<polygon class="dg" points="1330,1084.5 1466.25,1084.5 1505,1122.5 1505,1315 1466.25,1357.5 1330,1357.5 1291.25,1317.5 1291.25,1122.5"/>
<line class="dk" x1="1377.5" y1="1403" x2="1377.5" y2="1658"/>
<line class="t" x1="1381.5" y1="1403" x2="1381.5" y2="1658"/>
<line class="dc" x1="1408.25" y1="1403" x2="1408.25" y2="1658"/>
<line class="dc" x1="1493.25" y1="1403" x2="1493.25" y2="1658"/>
<line class="tc" x1="1515" y1="1403" x2="1515" y2="1658"/>
<line class="t" x1="1518.75" y1="1403" x2="1518.75" y2="1658"/>
<line class="dk" x1="1523" y1="1403" x2="1523" y2="1658"/>
<polygon class="tw" points="1430,913 1476.25,913 1476.25,916 1430,916"/>
<path class="t" d="M1476.25 913A46.25 46.25 0 0 1 1430 959.25"/>
<polygon class="tw" points="1322.5,1027 1357.5,992.5 1355.39,990.36 1320.39,1024.86"/>
<path class="t" d="M1357.5 992.5A49.15 49.15 0 0 0 1322.5 977.85"/>
<polygon class="tw" points="1406.25,1041.25 1370,1007 1367.94,1009.18 1404.19,1043.43"/>
<path class="t" d="M1370 1007A49.87 49.87 0 0 0 1356.39 1040"/>
<polygon class="tw" points="1632.5,948.75 1597.5,916.25 1595.46,918.45 1630.46,950.95"/>
<path class="t" d="M1597.5 916.25A47.76 47.76 0 0 0 1585.09 954.53"/>
<polygon class="tw" points="1549.5,975 1583.75,1008.75 1581.64,1010.89 1547.39,977.14"/>
<path class="t" d="M1583.75 1008.75A48.08 48.08 0 0 1 1547.48 1023.04"/>
<polygon class="tw" points="1635,1042.5 1598.75,1081.25 1596.56,1079.2 1632.81,1040.45"/>
<path class="t" d="M1598.75 1081.25A53.06 53.06 0 0 1 1581.94 1042.5"/>
<polygon class="tw" points="1982.5,1020.5 2031.25,1020.5 2031.25,1017.5 1982.5,1017.5"/>
<path class="t" d="M2031.25 1020.5A48.75 48.75 0 0 0 1982.5 971.75"/>
<polygon class="tw" points="2076.5,1035 2076.5,1083.5 2073.5,1083.5 2073.5,1035"/>
<path class="t" d="M2076.5 1083.5A48.5 48.5 0 0 1 2028 1035"/>
<polygon class="tw" points="2116.25,1031.25 2146.25,1003.75 2148.28,1005.96 2118.28,1033.46"/>
<polygon class="tw" points="2196.25,1031.25 2167.5,1003.75 2165.43,1005.92 2194.18,1033.42"/>
<path class="t" d="M2146.25 1003.75A42 42 0 0 1 2156.25 1031.25"/>
<path class="t" d="M2167.5 1003.75A42 42 0 0 0 2156.25 1031.25"/>
<polygon class="tw" points="1981.25,1210.5 2028.75,1210.5 2028.75,1207.5 1981.25,1207.5"/>
<path class="t" d="M2028.75 1210.5A47.5 47.5 0 0 0 1981.25 1163"/>
<polygon class="tw" points="2091.75,1211.25 2140,1211.25 2140,1208.25 2091.75,1208.25"/>
<path class="t" d="M2140 1211.25A48.25 48.25 0 0 0 2092.55 1163.01"/>
<polygon class="tw" points="1872,1207 1821.25,1207 1821.25,1210 1872,1210"/>
<path class="t" d="M1821.25 1207A50.75 50.75 0 0 0 1872.53 1257.75"/>
<polygon class="tw" points="1981.25,1233.75 2016.25,1268.75 2014.13,1270.87 1979.13,1235.87"/>
<path class="t" d="M2016.25 1268.75A49.5 49.5 0 0 1 1980.01 1283.23"/>
<polygon class="tw" points="1981,1411.75 1933.75,1411.75 1933.75,1408.75 1981,1408.75"/>
<path class="t" d="M1933.75 1411.75A47.25 47.25 0 0 1 1981 1364.5"/>
<polygon class="tw" points="1650,1205.5 1605,1205.5 1605,1208.5 1650,1208.5"/>
<path class="t" d="M1605 1205.5A45 45 0 0 0 1652.46 1250.43"/>
<polygon class="tw" points="1473.75,1400 1441.25,1432.5 1439.13,1430.38 1471.63,1397.88"/>
<path class="t" d="M1441.25 1432.5A45.96 45.96 0 0 1 1427.85 1397.58"/>
<rect class="w" x="1246.25" y="715.75" width="310" height="7.5"/>
<rect class="w" x="1620" y="715.75" width="33.75" height="7.5"/>
<rect class="w" x="1246.25" y="715.75" width="7.5" height="687.25"/>
<rect class="w" x="1643.25" y="592.5" width="30.5" height="10.75"/>
<rect class="w" x="1737" y="592.5" width="159.25" height="10.75"/>
<rect class="w" x="1958.75" y="592.5" width="30" height="10.75"/>
<rect class="w" x="1643.25" y="592.5" width="10.5" height="130.75"/>
<rect class="w" x="1646.75" y="716" width="7" height="242.5"/>
<rect class="w" x="1978.25" y="592.5" width="10.5" height="130.75"/>
<rect class="w" x="1978.25" y="716" width="7.25" height="255.25"/>
<rect class="w" x="1985" y="715.75" width="138.75" height="7.5"/>
<rect class="w" x="2190" y="715.75" width="22.5" height="7.5"/>
<rect class="w" x="2205.5" y="715.75" width="7" height="745.5"/>
<rect class="w" x="1650" y="1453.75" width="562.5" height="7.5"/>
<rect class="w" x="1650" y="1252.5" width="6.75" height="208.75"/>
<rect class="w" x="1650" y="1187" width="6.75" height="15.5"/>
<rect class="w" x="1246.25" y="1395.75" width="178.75" height="7.25"/>
<rect class="w" x="1475" y="1395.75" width="175" height="7.25"/>
<rect class="w" x="1357" y="1403" width="7.25" height="262.5"/>
<rect class="w" x="1538.25" y="1403" width="7.25" height="262.5"/>
<rect class="w" x="1357" y="1658" width="68" height="7.5"/>
<rect class="w" x="1477.5" y="1658" width="68" height="7.5"/>
<rect class="w" x="1349.5" y="723.25" width="6.75" height="61.75"/>
<polygon class="w" points="1435,723.25 1447.5,723.25 1488.75,765 1488.75,777.5"/>
<rect class="w" x="1488.5" y="723.25" width="8.5" height="322.75"/>
<rect class="w" x="1423.75" y="897" width="64.75" height="7.5"/>
<rect class="w" x="1423.75" y="897" width="7" height="14.25"/>
<rect class="w" x="1423.75" y="961.25" width="7" height="78.75"/>
<rect class="w" x="1246" y="957.5" width="80.25" height="7"/>
<rect class="w" x="1319.5" y="957.5" width="6.75" height="18.75"/>
<rect class="w" x="1275" y="964.5" width="7" height="75.5"/>
<rect class="w" x="1319.5" y="1027.5" width="6.75" height="12.5"/>
<rect class="w" x="1246.25" y="1040" width="107.5" height="6.25"/>
<rect class="w" x="1407.5" y="1040" width="172.5" height="6.25"/>
<rect class="w" x="1497" y="951.25" width="83" height="6.75"/>
<polygon class="w" points="1633,947 1637,944.5 1643,951 1653.75,951 1653.75,958.5 1640,958.5"/>
<rect class="w" x="1546.25" y="958" width="6.25" height="15.75"/>
<rect class="w" x="1546.25" y="1024.5" width="6.25" height="15.5"/>
<rect class="w" x="1637.5" y="1040" width="96.25" height="6.5"/>
<rect class="w" x="1646.25" y="1046" width="6.75" height="124"/>
<polygon class="w" points="1653,1058.5 1653,1068 1676,1046.25 1666.5,1046.25"/>
<rect class="w" x="1543.75" y="1162.5" width="7" height="240.5"/>
<rect class="w" x="1543.75" y="1162.5" width="108.75" height="7.5"/>
<polygon class="w" points="1653,1159 1681,1187.5 1670,1187.5 1653,1170"/>
<rect class="w" x="1653" y="1187.5" width="223.25" height="7.5"/>
<rect class="w" x="1869.5" y="1187.5" width="6.75" height="17.5"/>
<rect class="w" x="1550.75" y="1370.5" width="24.25" height="7"/>
<rect class="w" x="1568.75" y="1370.5" width="6.25" height="25.25"/>
<rect class="tw" x="1550.75" y="1377.5" width="18" height="18.25"/>
<line class="tk" x1="1550.75" y1="1377.5" x2="1568.75" y2="1395.75"/>
<line class="tk" x1="1550.75" y1="1395.75" x2="1568.75" y2="1377.5"/>
<rect class="w" x="1868.75" y="1256.25" width="7.5" height="205"/>
<rect class="w" x="1876.25" y="1292" width="108.25" height="7.5"/>
<rect class="tw" x="1876.25" y="1299.5" width="21.25" height="20.5"/>
<line class="tk" x1="1876.25" y1="1299.5" x2="1897.5" y2="1320"/>
<line class="tk" x1="1876.25" y1="1320" x2="1897.5" y2="1299.5"/>
<rect class="w" x="1897.5" y="1299.5" width="7" height="27.5"/>
<rect class="w" x="1876.25" y="1320" width="28.25" height="7"/>
<rect class="w" x="1977.5" y="1285" width="7" height="80"/>
<rect class="w" x="1977.5" y="1416.25" width="7" height="45"/>
<rect class="w" x="1977.5" y="1217.5" width="235" height="7"/>
<rect class="w" x="1977.5" y="1212.5" width="7" height="17.5"/>
<rect class="w" x="1977.5" y="1025" width="7" height="137.5"/>
<rect class="w" x="1978" y="1030.5" width="50.75" height="7"/>
<rect class="w" x="2079.5" y="1030.5" width="35.5" height="7"/>
<rect class="w" x="2196.25" y="1030.5" width="9.25" height="7"/>
<rect class="w" x="2088.5" y="1037.5" width="7" height="125"/>
<rect class="w" x="2095.5" y="1075.5" width="110" height="6.5"/>
<rect class="w" x="2102" y="1082" width="6.75" height="55.5"/>
<rect class="w" x="2095" y="1131.25" width="13.75" height="6.25"/>
<rect class="win" x="1556.25" y="714.25" width="63.75" height="10.5"/>
<line class="wbar" x1="1560.25" y1="719.5" x2="1616" y2="719.5"/>
<line class="wl2" x1="1558.45" y1="714.25" x2="1558.45" y2="724.75"/>
<line class="wl2" x1="1617.8" y1="714.25" x2="1617.8" y2="724.75"/>
<rect class="win" x="1673.75" y="591" width="63.25" height="13.75"/>
<line class="wbar" x1="1677.75" y1="597.88" x2="1733" y2="597.88"/>
<line class="wl2" x1="1675.95" y1="591" x2="1675.95" y2="604.75"/>
<line class="wl2" x1="1734.8" y1="591" x2="1734.8" y2="604.75"/>
<rect class="win" x="1896.25" y="591" width="62.5" height="13.75"/>
<line class="wbar" x1="1900.25" y1="597.88" x2="1954.75" y2="597.88"/>
<line class="wl2" x1="1898.45" y1="591" x2="1898.45" y2="604.75"/>
<line class="wl2" x1="1956.55" y1="591" x2="1956.55" y2="604.75"/>
<rect class="win" x="1641.75" y="620" width="13.5" height="66.25"/>
<line class="wbar" x1="1648.5" y1="624" x2="1648.5" y2="682.25"/>
<line class="wl2" x1="1641.75" y1="622.2" x2="1655.25" y2="622.2"/>
<line class="wl2" x1="1641.75" y1="684.05" x2="1655.25" y2="684.05"/>
<rect class="win" x="1976.75" y="623.75" width="13.5" height="62.5"/>
<line class="wbar" x1="1983.5" y1="627.75" x2="1983.5" y2="682.25"/>
<line class="wl2" x1="1976.75" y1="625.95" x2="1990.25" y2="625.95"/>
<line class="wl2" x1="1976.75" y1="684.05" x2="1990.25" y2="684.05"/>
<rect class="win" x="2123.75" y="714.25" width="66.25" height="10.5"/>
<line class="wbar" x1="2127.75" y1="719.5" x2="2186" y2="719.5"/>
<line class="wl2" x1="2125.95" y1="714.25" x2="2125.95" y2="724.75"/>
<line class="wl2" x1="2187.8" y1="714.25" x2="2187.8" y2="724.75"/>
<rect class="win" x="1244.75" y="868.75" width="10.5" height="81.25"/>
<line class="wbar" x1="1250" y1="872.75" x2="1250" y2="946"/>
<line class="wl2" x1="1244.75" y1="870.95" x2="1255.25" y2="870.95"/>
<line class="wl2" x1="1244.75" y1="947.8" x2="1255.25" y2="947.8"/>
<rect class="win" x="1244.75" y="1081.25" width="10.5" height="65"/>
<line class="wbar" x1="1250" y1="1085.25" x2="1250" y2="1142.25"/>
<line class="wl2" x1="1244.75" y1="1083.45" x2="1255.25" y2="1083.45"/>
<line class="wl2" x1="1244.75" y1="1144.05" x2="1255.25" y2="1144.05"/>
<rect class="win" x="1244.75" y="1296.25" width="10.5" height="65"/>
<line class="wbar" x1="1250" y1="1300.25" x2="1250" y2="1357.25"/>
<line class="wl2" x1="1244.75" y1="1298.45" x2="1255.25" y2="1298.45"/>
<line class="wl2" x1="1244.75" y1="1359.05" x2="1255.25" y2="1359.05"/>
<rect class="win" x="2204" y="740" width="10" height="65"/>
<line class="wbar" x1="2209" y1="744" x2="2209" y2="801"/>
<line class="wl2" x1="2204" y1="742.2" x2="2214" y2="742.2"/>
<line class="wl2" x1="2204" y1="802.8" x2="2214" y2="802.8"/>
<rect class="win" x="2204" y="1166.25" width="10" height="46.25"/>
<line class="wbar" x1="2209" y1="1170.25" x2="2209" y2="1208.5"/>
<line class="wl2" x1="2204" y1="1168.45" x2="2214" y2="1168.45"/>
<line class="wl2" x1="2204" y1="1210.3" x2="2214" y2="1210.3"/>
<rect class="win" x="2204" y="1242.5" width="10" height="58.75"/>
<line class="wbar" x1="2209" y1="1246.5" x2="2209" y2="1297.25"/>
<line class="wl2" x1="2204" y1="1244.7" x2="2214" y2="1244.7"/>
<line class="wl2" x1="2204" y1="1299.05" x2="2214" y2="1299.05"/>
<rect class="win" x="1707.5" y="1452.25" width="118.75" height="10.5"/>
<line class="wbar" x1="1711.5" y1="1457.5" x2="1822.25" y2="1457.5"/>
<line class="wl2" x1="1709.7" y1="1452.25" x2="1709.7" y2="1462.75"/>
<line class="wl2" x1="1824.05" y1="1452.25" x2="1824.05" y2="1462.75"/>
<rect class="win" x="1763.5" y="1452.25" width="4" height="10.5"/>
<rect class="win" x="1909.5" y="1452.25" width="44.25" height="10.5"/>
<line class="wbar" x1="1913.5" y1="1457.5" x2="1949.75" y2="1457.5"/>
<line class="wl2" x1="1911.7" y1="1452.25" x2="1911.7" y2="1462.75"/>
<line class="wl2" x1="1951.55" y1="1452.25" x2="1951.55" y2="1462.75"/>
<rect class="win" x="2036.25" y="1452.25" width="118.75" height="10.5"/>
<line class="wbar" x1="2040.25" y1="1457.5" x2="2151" y2="1457.5"/>
<line class="wl2" x1="2038.45" y1="1452.25" x2="2038.45" y2="1462.75"/>
<line class="wl2" x1="2152.8" y1="1452.25" x2="2152.8" y2="1462.75"/>
<rect class="win" x="2092" y="1452.25" width="4" height="10.5"/>
<rect class="win" x="1425" y="1656.5" width="52.5" height="10.5"/>
<line class="wbar" x1="1429" y1="1661.75" x2="1473.5" y2="1661.75"/>
<line class="wl2" x1="1427.2" y1="1656.5" x2="1427.2" y2="1667"/>
<line class="wl2" x1="1475.3" y1="1656.5" x2="1475.3" y2="1667"/>
<text x="1344.5" y="848.75" font-size="32" text-anchor="start" textLength="76.75" lengthAdjust="spacingAndGlyphs" class="c">Master</text>
<text x="1357.5" y="887.5" font-size="32" text-anchor="start" textLength="51.25" lengthAdjust="spacingAndGlyphs" class="c">Bath</text>
<text x="1550" y="827.5" font-size="32" text-anchor="start" textLength="83.75" lengthAdjust="spacingAndGlyphs" class="c">Laundry</text>
<text x="1768.75" y="751.25" font-size="32" text-anchor="start" textLength="93.75" lengthAdjust="spacingAndGlyphs" class="c">Open To</text>
<text x="1747" y="790.5" font-size="32" text-anchor="start" textLength="138" lengthAdjust="spacingAndGlyphs" class="c">Great Room</text>
<text x="1782" y="830.5" font-size="32" text-anchor="start" textLength="67.5" lengthAdjust="spacingAndGlyphs" class="c">Below</text>
<text x="2036.25" y="869" font-size="32" text-anchor="start" textLength="123.75" lengthAdjust="spacingAndGlyphs" class="c">Bedroom 5</text>
<text x="1302.5" y="1221.25" font-size="32" text-anchor="start" textLength="191.25" lengthAdjust="spacingAndGlyphs" class="c">Master Bedroom</text>
<text x="1586.25" y="1316.25" font-size="29" text-anchor="start" textLength="46.75" lengthAdjust="spacingAndGlyphs" class="c">WIC</text>
<text x="1905" y="1366.5" font-size="29" text-anchor="start" textLength="46.25" lengthAdjust="spacingAndGlyphs" class="c">WIC</text>
<text x="1430" y="1562" font-size="29" text-anchor="start" textLength="47" lengthAdjust="spacingAndGlyphs" class="c">WIC</text>
<text x="2028.75" y="1140.5" font-size="32" text-anchor="start" textLength="50" lengthAdjust="spacingAndGlyphs" class="c">Bath</text>
<text x="1701.25" y="1330.75" font-size="32" text-anchor="start" textLength="125" lengthAdjust="spacingAndGlyphs" class="c">Bedroom 3</text>
<text x="2035.75" y="1340.5" font-size="32" text-anchor="start" textLength="123.75" lengthAdjust="spacingAndGlyphs" class="c">Bedroom 4</text>
<text x="1542.5" y="860" font-size="23.5" text-anchor="start" textLength="100" lengthAdjust="spacingAndGlyphs" class="c">10’0” x 11’9”</text>
<text x="2038.25" y="907" font-size="23.5" text-anchor="start" textLength="123" lengthAdjust="spacingAndGlyphs" class="c">11’4” x 15’10”</text>
<text x="1324.5" y="1253.75" font-size="23.5" text-anchor="start" textLength="141.75" lengthAdjust="spacingAndGlyphs" class="c">14’10” x 17’10”</text>
<text x="1702.5" y="1362" font-size="23.5" text-anchor="start" textLength="123.75" lengthAdjust="spacingAndGlyphs" class="c">10’11” x 13’4”</text>
<text x="2042.5" y="1371.75" font-size="23.5" text-anchor="start" textLength="111.25" lengthAdjust="spacingAndGlyphs" class="c">11’4” x 11’9”</text>
<text x="1508.75" y="763" font-size="17" text-anchor="start" textLength="32.5" lengthAdjust="spacingAndGlyphs" class="c">OPT</text>
<text x="1525" y="780" font-size="17" text-anchor="middle" class="c">D</text>
<text x="1507.5" y="815" font-size="17" text-anchor="start" textLength="31.5" lengthAdjust="spacingAndGlyphs" class="c">OPT</text>
<text x="1523" y="831.25" font-size="17" text-anchor="middle" class="c">W</text>
<text x="1707.5" y="1576.25" font-size="56" text-anchor="start" textLength="323.75" lengthAdjust="spacingAndGlyphs">Second Floor</text>
</g>
<g id="opt">
<rect class="t" x="2393" y="1020" width="94.5" height="51.25"/>
<path class="tk" d="M2484 1024V1066Q2484 1068 2482 1068H2432Q2398 1068 2398 1045Q2398 1022 2432 1022H2482Q2484 1022 2484 1024Z"/>
<path class="t" d="M2445 1026H2432Q2403 1026 2403 1045Q2403 1064 2432 1064H2445"/>
<path class="tw" d="M2395.5 1081.25q-3 0 -3 4v27q0 4 3 4h10.5v-35z"/>
<ellipse class="tw" cx="2422.5" cy="1098.75" rx="13" ry="12"/>
<rect class="t" x="2393" y="1125" width="33.25" height="58.75"/>
<ellipse class="tk" cx="2409.5" cy="1155" rx="12.5" ry="17"/>
<ellipse class="t" cx="2409.5" cy="1155" rx="9.9" ry="14.4"/>
<circle class="t" cx="2403.5" cy="1155" r="1.4"/>
<line class="dk" x1="2407.5" y1="1190.5" x2="2407.5" y2="1260"/>
<line class="t" x1="2412.5" y1="1190.5" x2="2412.5" y2="1260"/>
<line class="dk" x1="2418" y1="1267" x2="2491" y2="1267"/>
<line class="t" x1="2418" y1="1264" x2="2491" y2="1264"/>
<rect class="tw" x="2361" y="1297.5" width="19" height="20"/>
<line class="tc" x1="2365" y1="1297.5" x2="2365" y2="1317.5"/>
<polygon class="tw" points="2475,932.5 2437.5,970 2435.38,967.88 2472.88,930.38"/>
<path class="t" d="M2437.5 970A53.03 53.03 0 0 1 2421.98 931.24"/>
<polygon class="tw" points="2494,1093.75 2447.5,1093.75 2447.5,1096.75 2494,1096.75"/>
<path class="t" d="M2447.5 1093.75A46.5 46.5 0 0 0 2496.32 1140.19"/>
<polygon class="tw" points="2486.25,1187.5 2452.5,1221.25 2450.38,1219.13 2484.13,1185.38"/>
<path class="t" d="M2452.5 1221.25A47.73 47.73 0 0 1 2438.52 1187.5"/>
<rect class="w" x="2353.75" y="928.75" width="67.5" height="7"/>
<rect class="w" x="2476.25" y="928.75" width="31.25" height="7"/>
<rect class="w" x="2490" y="935.75" width="7.5" height="154.25"/>
<polygon class="w" points="2497.5,947.5 2503.75,943 2507.5,947.5 2498.75,953.75"/>
<polygon class="w" points="2498.75,1050 2507.5,1060 2505,1066.25 2496.25,1056.25"/>
<rect class="w" x="2497.5" y="1077" width="10" height="6.75"/>
<rect class="w" x="2386.25" y="1012.5" width="103.75" height="7.5"/>
<rect class="w" x="2386.25" y="1012.5" width="6.75" height="285"/>
<rect class="w" x="2491.25" y="1140" width="7.5" height="177.5"/>
<rect class="w" x="2393" y="1183.75" width="44.5" height="6.75"/>
<rect class="w" x="2486" y="1183.75" width="5.25" height="6.75"/>
<rect class="tw" x="2393" y="1267" width="18" height="18"/>
<line class="tk" x1="2393" y1="1267" x2="2411" y2="1285"/>
<line class="tk" x1="2393" y1="1285" x2="2411" y2="1267"/>
<rect class="w" x="2393" y="1260" width="25" height="7"/>
<rect class="w" x="2411" y="1260" width="7" height="25"/>
<rect class="w" x="2353.75" y="1285" width="137.5" height="7"/>
<rect class="w" x="2380" y="1292" width="7" height="25.5"/>
<text x="2430" y="1253.75" font-size="29" text-anchor="start" textLength="46.25" lengthAdjust="spacingAndGlyphs" class="c">WIC</text>
<text x="2344.4" y="1370" font-size="41" text-anchor="start" textLength="189.35" lengthAdjust="spacingAndGlyphs">Bedroom 3</text>
<text x="2336.9" y="1420" font-size="41" text-anchor="start" textLength="203.7" lengthAdjust="spacingAndGlyphs">Bath Option</text>
<rect class="tw" x="2693.75" y="1288.75" width="107.5" height="8.75"/>
<line class="d" x1="2700" y1="1292.5" x2="2800" y2="1292.5"/>
<line class="t" x1="2702" y1="1288.75" x2="2702" y2="1297.5"/>
<rect class="tw" x="2910" y="1288.75" width="108.25" height="8.75"/>
<line class="d" x1="2912" y1="1292.5" x2="3016" y2="1292.5"/>
<rect class="tw" x="2801" y="1288.75" width="5" height="8.75"/>
<rect class="tw" x="2903.75" y="1288.75" width="5.25" height="8.75"/>
<polygon class="tw" points="2806.25,1290 2841.25,1255 2843.37,1257.12 2808.37,1292.12"/>
<polygon class="tw" points="2903.75,1290 2868.25,1255 2866.14,1257.14 2901.64,1292.14"/>
<path class="t" d="M2841.25 1255A50 50 0 0 1 2854.25 1288.75"/>
<path class="t" d="M2868.25 1255A50 50 0 0 0 2854.25 1288.75"/>
<polygon class="tw" points="2673.75,1291.25 2637.5,1253.75 2639.66,1251.66 2675.91,1289.16"/>
<rect class="tw" x="2646.25" y="1052.5" width="15" height="7.5"/>
<line class="t" x1="2646.25" y1="1055" x2="2661.25" y2="1055"/>
<line class="t" x1="2646.25" y1="1057.5" x2="2661.25" y2="1057.5"/>
<rect class="tk" x="3040" y="1053" width="17" height="7"/>
<rect class="w" x="2683" y="928.75" width="29.5" height="10.75"/>
<rect class="w" x="2777" y="928.75" width="156.75" height="10.75"/>
<rect class="w" x="2998" y="928.75" width="30.75" height="10.75"/>
<rect class="w" x="2683" y="928.75" width="10.75" height="131.25"/>
<rect class="w" x="2687" y="1052.5" width="6.75" height="243.75"/>
<rect class="w" x="2661.25" y="1052.5" width="25.75" height="7.5"/>
<rect class="w" x="3018.25" y="928.75" width="10.5" height="131.25"/>
<rect class="w" x="3018.25" y="1052.5" width="6.75" height="257.5"/>
<rect class="w" x="3025" y="1053" width="15" height="7"/>
<polygon class="w" points="2671,1287 2676,1283 2681,1290 2693.75,1290 2693.75,1297.5 2679,1297.5"/>
<rect class="win" x="2712.5" y="927.25" width="64.5" height="13.75"/>
<line class="wbar" x1="2716.5" y1="934.12" x2="2773" y2="934.12"/>
<line class="wl2" x1="2714.7" y1="927.25" x2="2714.7" y2="941"/>
<line class="wl2" x1="2774.8" y1="927.25" x2="2774.8" y2="941"/>
<rect class="win" x="2933.75" y="927.25" width="64.25" height="13.75"/>
<line class="wbar" x1="2937.75" y1="934.12" x2="2994" y2="934.12"/>
<line class="wl2" x1="2935.95" y1="927.25" x2="2935.95" y2="941"/>
<line class="wl2" x1="2995.8" y1="927.25" x2="2995.8" y2="941"/>
<rect class="win" x="2681.5" y="958" width="13.75" height="65"/>
<line class="wbar" x1="2688.38" y1="962" x2="2688.38" y2="1019"/>
<line class="wl2" x1="2681.5" y1="960.2" x2="2695.25" y2="960.2"/>
<line class="wl2" x1="2681.5" y1="1020.8" x2="2695.25" y2="1020.8"/>
<rect class="win" x="3016.75" y="960" width="13.5" height="62.5"/>
<line class="wbar" x1="3023.5" y1="964" x2="3023.5" y2="1018.5"/>
<line class="wl2" x1="3016.75" y1="962.2" x2="3030.25" y2="962.2"/>
<line class="wl2" x1="3016.75" y1="1020.3" x2="3030.25" y2="1020.3"/>
<rect class="tw" x="3019" y="1310" width="5.5" height="3"/>
<text x="2830" y="1100" font-size="32" text-anchor="start" textLength="41.25" lengthAdjust="spacingAndGlyphs" class="c">Loft</text>
<text x="2795.75" y="1132" font-size="23.5" text-anchor="start" textLength="111.75" lengthAdjust="spacingAndGlyphs" class="c">16’8” x 17’7”</text>
<text x="2755" y="1358.7" font-size="41" text-anchor="start" textLength="190.5" lengthAdjust="spacingAndGlyphs">Loft Option</text>
<rect class="t" x="2451.25" y="1497.5" width="93.25" height="51.25" rx="3"/>
<line class="t" x1="2453" y1="1499.5" x2="2543" y2="1547"/>
<line class="t" x1="2453" y1="1547" x2="2543" y2="1499.5"/>
<circle class="tw" cx="2498.75" cy="1524.5" r="3.2"/>
<rect class="t" x="2452" y="1548.75" width="91.5" height="3.75"/>
<rect class="t" x="2553.25" y="1496.25" width="63" height="33.25"/>
<line class="d" x1="2557.5" y1="1497" x2="2557.5" y2="1529"/>
<line class="d" x1="2616.25" y1="1497" x2="2616.25" y2="1529"/>
<ellipse class="tk" cx="2587" cy="1513" rx="17" ry="13"/>
<ellipse class="t" cx="2587" cy="1513" rx="14.4" ry="10.4"/>
<circle class="t" cx="2587" cy="1505" r="1.4"/>
<polyline class="t" points="2616.25,1529.5 2651.25,1564.5 2651.25,1623.75 2685,1623.75"/>
<line class="d" x1="2620" y1="1526" x2="2638.5" y2="1507.5"/>
<line class="d" x1="2652.5" y1="1561" x2="2682" y2="1532"/>
<line class="d" x1="2651.25" y1="1564.5" x2="2685" y2="1564.5"/>
<line class="tk" x1="2645.5" y1="1498" x2="2685" y2="1518"/>
<line class="tk" x1="2658" y1="1497" x2="2684" y2="1540"/>
<line class="tk" x1="2671" y1="1497" x2="2678" y2="1530"/>
<ellipse class="tk" cx="2668.25" cy="1592.5" rx="12.5" ry="16.25"/>
<ellipse class="t" cx="2668.25" cy="1592.5" rx="9.9" ry="13.65"/>
<circle class="t" cx="2674.25" cy="1592.5" r="1.4"/>
<rect class="t" x="2450" y="1633.75" width="67.5" height="95"/>
<rect class="tw" x="2450" y="1625.75" width="73.25" height="8"/>
<line class="dc" x1="2452" y1="1629.7" x2="2521" y2="1629.7"/>
<ellipse class="tk" cx="2483.75" cy="1682.5" rx="28.75" ry="43.75"/>
<ellipse class="t" cx="2483.75" cy="1682.5" rx="26" ry="41"/>
<rect class="tw" x="2450" y="1736.25" width="22" height="76.25"/>
<line class="tk" x1="2450" y1="1736.25" x2="2472" y2="1812.5"/>
<line class="tk" x1="2450" y1="1812.5" x2="2472" y2="1736.25"/>
<line class="t" x1="2498.75" y1="1736.25" x2="2498.75" y2="1812.5"/>
<ellipse class="t" cx="2655.5" cy="1782.5" rx="11" ry="14.5"/>
<path class="tw" d="M2638 1799.5q0 -3 4 -3h27q4 0 4 3v10.5h-35z"/>
<line class="tc" x1="2710" y1="1730" x2="2710" y2="1812"/>
<polyline class="d" points="2692,1510 2830,1510 2830,1709.5 2692,1709.5"/>
<polyline class="tc" points="2692,1515 2825,1515 2825,1705 2692,1705"/>
<polygon class="tw" points="2687.5,1636.25 2722.5,1668.75 2720.46,1670.95 2685.46,1638.45"/>
<path class="t" d="M2722.5 1668.75A47.76 47.76 0 0 1 2687.5 1684.01"/>
<polygon class="tw" points="2519.5,1798.75 2552.5,1763.75 2550.32,1761.69 2517.32,1796.69"/>
<path class="t" d="M2552.5 1763.75A48.1 48.1 0 0 0 2519.5 1750.65"/>
<polygon class="tw" points="2602.5,1812.5 2566.25,1778.75 2564.21,1780.95 2600.46,1814.7"/>
<path class="t" d="M2566.25 1778.75A49.53 49.53 0 0 0 2552.99 1811.26"/>
<polygon class="tw" points="2626,1704 2665,1704 2665,1707 2626,1707"/>
<path class="t" d="M2665 1704A39 39 0 0 1 2626.25 1743"/>
<polygon class="tw" points="2746.25,1747.5 2780,1780 2777.92,1782.16 2744.17,1749.66"/>
<path class="t" d="M2780 1780A46.85 46.85 0 0 1 2745.02 1794.34"/>
<polygon class="tw" points="2831.25,1816.25 2795,1853.75 2792.84,1851.66 2829.09,1814.16"/>
<path class="t" d="M2795 1853.75A52.16 52.16 0 0 1 2779.11 1817.49"/>
<rect class="w" x="2442.5" y="1488.75" width="408.75" height="7.5"/>
<rect class="w" x="2843.75" y="1446.25" width="7.5" height="283.75"/>
<rect class="w" x="2442.5" y="1488.75" width="7.5" height="350"/>
<rect class="w" x="2546.25" y="1496.25" width="7" height="61.25"/>
<polygon class="w" points="2632.5,1496.25 2645,1496.25 2685,1536.25 2685,1548.75"/>
<rect class="w" x="2685" y="1496.25" width="7" height="138.75"/>
<rect class="w" x="2685" y="1685" width="7" height="133.75"/>
<rect class="w" x="2685" y="1723" width="166.25" height="7"/>
<rect class="w" x="2442.5" y="1728.75" width="80.75" height="7.5"/>
<rect class="w" x="2516.25" y="1728.75" width="7" height="20"/>
<rect class="w" x="2472" y="1736.25" width="6.75" height="76.25"/>
<rect class="w" x="2516.25" y="1800" width="7" height="12.5"/>
<rect class="w" x="2450" y="1812" width="100.75" height="6.75"/>
<rect class="w" x="2603.75" y="1812" width="173.75" height="6.75"/>
<rect class="w" x="2835" y="1812" width="41.25" height="6.75"/>
<rect class="w" x="2620" y="1691.25" width="65" height="7.5"/>
<rect class="w" x="2620" y="1691" width="7" height="10"/>
<rect class="w" x="2620" y="1745.5" width="7" height="67"/>
<rect class="w" x="2742" y="1730" width="6.75" height="16.25"/>
<rect class="w" x="2742" y="1796.25" width="6.75" height="16.25"/>
<rect class="win" x="2441" y="1641.25" width="10.5" height="80"/>
<line class="wbar" x1="2446.25" y1="1645.25" x2="2446.25" y2="1717.25"/>
<line class="wl2" x1="2441" y1="1643.45" x2="2451.5" y2="1643.45"/>
<line class="wl2" x1="2441" y1="1719.05" x2="2451.5" y2="1719.05"/>
<text x="2737.5" y="1621.25" font-size="29" text-anchor="start" textLength="48.75" lengthAdjust="spacingAndGlyphs" class="c">WIC</text>
<text x="2546.25" y="1623.75" font-size="32" text-anchor="start" textLength="77" lengthAdjust="spacingAndGlyphs" class="c">Master</text>
<text x="2559.5" y="1662.5" font-size="32" text-anchor="start" textLength="50.5" lengthAdjust="spacingAndGlyphs" class="c">Bath</text>
<text x="2490.7" y="1900.2" font-size="42" text-anchor="start" textLength="276.4" lengthAdjust="spacingAndGlyphs">Optional Master</text>
<text x="2485.5" y="1951" font-size="42" text-anchor="start" textLength="287.7" lengthAdjust="spacingAndGlyphs">Bath W/2nd WIC</text>
<text x="2485.8" y="1999" font-size="33" text-anchor="start" textLength="283" lengthAdjust="spacingAndGlyphs" font-weight="bold">Requires addition of</text>
<text x="2448.7" y="2030.5" font-size="33" text-anchor="start" textLength="356.9" lengthAdjust="spacingAndGlyphs" font-weight="bold">optional 1st floor laundry</text>
<line class="t" x1="1280" y1="1828" x2="1280" y2="1987"/>
<line class="d" x1="1260" y1="1828" x2="1260" y2="1857.5"/>
<line class="d" x1="1260" y1="1896.25" x2="1260" y2="1987"/>
<line class="t" x1="1242" y1="1857.5" x2="1260" y2="1857.5"/>
<line class="t" x1="1242" y1="1896.25" x2="1260" y2="1896.25"/>
<rect class="tk" x="1242" y="1862.5" width="30" height="28.75"/>
<rect class="t" x="1250.5" y="1867" width="18.25" height="19.25" rx="3"/>
<circle class="t" cx="1259.5" cy="1876.75" r="2.8"/>
<circle cx="1247" cy="1870.5" r="1.1" fill="#555"/>
<circle cx="1247" cy="1876.75" r="1.1" fill="#555"/>
<circle cx="1247" cy="1882.5" r="1.1" fill="#555"/>
<rect class="t" x="1152.5" y="1993.75" width="66.25" height="2.75"/>
<polygon class="tw" points="1227,1826.25 1191.25,1862.5 1189.11,1860.39 1224.86,1824.14"/>
<path class="t" d="M1191.25 1862.5A50.91 50.91 0 0 1 1176.09 1826.25"/>
<polygon class="tw" points="1213,1990 1174.5,1951.25 1172.37,1953.36 1210.87,1992.11"/>
<path class="t" d="M1174.5 1951.25A54.62 54.62 0 0 0 1158.44 1987.43"/>
<rect class="w" x="1150.5" y="1821.25" width="25" height="6.75"/>
<rect class="w" x="1150.5" y="1821.25" width="8.25" height="52.5"/>
<rect class="w" x="1144.25" y="1866.25" width="14.5" height="7.5"/>
<rect class="w" x="1230" y="1821.25" width="59.5" height="6.75"/>
<rect class="w" x="1234.5" y="1828" width="7.5" height="159.5"/>
<rect class="w" x="1213.75" y="1987" width="75" height="6.75"/>
<polygon class="w" points="1283.75,1987 1288.75,1987 1311.25,2007.5 1307.5,2013.75 1285,1993.75"/>
<rect class="w" x="1144.25" y="1987" width="14.5" height="6.75"/>
<rect class="w" x="1339.5" y="1821.25" width="54.25" height="6.75"/>
<rect class="w" x="1350.75" y="1828" width="7.25" height="119.5"/>
<polygon class="w" points="1350.75,1947 1358,1945 1366.25,1953.75 1362.5,1960 1350.75,1950"/>
<polygon class="w" points="1358,1843.75 1372.5,1828 1381.25,1828 1358,1852.5"/>
<text x="1168" y="2059.5" font-size="42" text-anchor="start" textLength="144" lengthAdjust="spacingAndGlyphs">Optional</text>
<text x="1115" y="2109.5" font-size="42" text-anchor="start" textLength="252" lengthAdjust="spacingAndGlyphs">Butler’s Pantry</text>
<rect class="t" x="1668.25" y="1843" width="48" height="39.5"/>
<line class="t" x1="1585.5" y1="1863.25" x2="1661.75" y2="1863.25"/>
<line class="d" x1="1668.25" y1="1863.25" x2="1776" y2="1863.25"/>
<rect class="d" x="1720" y="1829.5" width="56.25" height="51"/>
<line class="d" x1="1722" y1="1832.5" x2="1774" y2="1832.5"/>
<line class="t" x1="1882" y1="1843" x2="1882" y2="2002.5"/>
<line class="d" x1="1885" y1="1843" x2="1885" y2="2002.5"/>
<rect class="d" x="1601.25" y="1952.5" width="48.75" height="41.25"/>
<rect class="d" x="1655.5" y="1952.5" width="48.25" height="41.25"/>
<rect class="dc" x="1721.25" y="1960" width="56.25" height="37.5"/>
<line class="d" x1="1603" y1="1990" x2="1648" y2="1990"/>
<line class="d" x1="1657" y1="1990" x2="1702" y2="1990"/>
<line class="tc" x1="1585.5" y1="1980.5" x2="1601" y2="1980.5"/>
<line class="tc" x1="1650" y1="1980.5" x2="1655.5" y2="1980.5"/>
<line class="dc" x1="1703.75" y1="1980.5" x2="1777" y2="1980.5"/>
<rect class="t" x="1788.75" y="2009.25" width="65" height="3.35"/>
<polygon class="tw" points="1848,1841.25 1809.5,1879.5 1807.39,1877.37 1845.89,1839.12"/>
<path class="t" d="M1809.5 1879.5A54.27 54.27 0 0 1 1793.79 1843.75"/>
<polygon class="tw" points="1781.25,1895 1743.75,1932.5 1745.87,1934.62 1783.37,1897.12"/>
<path class="t" d="M1743.75 1932.5A53.03 53.03 0 0 0 1781.25 1948.03"/>
<polygon class="tw" points="1848.75,2004.5 1810,1968 1807.94,1970.18 1846.69,2006.68"/>
<path class="t" d="M1810 1968A53.23 53.23 0 0 0 1795.52 2003.76"/>
<polygon class="tw" points="1858.75,1875 1823.75,1909.5 1821.64,1907.36 1856.64,1872.86"/>
<polygon class="tw" points="1858.75,1972.5 1823.75,1937.5 1821.63,1939.62 1856.63,1974.62"/>
<path class="t" d="M1823.75 1909.5A50 50 0 0 1 1856.25 1923.75"/>
<path class="t" d="M1823.75 1937.5A50 50 0 0 0 1856.25 1923.75"/>
<rect class="tw" x="1855.5" y="1871.25" width="7" height="4.25"/>
<rect class="tw" x="1855.5" y="1971" width="7" height="4"/>
<rect class="w" x="1577.5" y="1832.5" width="8" height="197.5"/>
<rect class="w" x="1585.5" y="1882.5" width="200.75" height="6.75"/>
<rect class="w" x="1585.5" y="1999.5" width="209.5" height="7.5"/>
<rect class="w" x="1779.5" y="1837" width="6.75" height="55.5"/>
<rect class="w" x="1779.5" y="1837" width="15.5" height="6"/>
<rect class="w" x="1779.5" y="1950" width="6.75" height="57"/>
<polygon class="w" points="1653.75,1832.5 1657.5,1828.75 1668.25,1838.75 1668.25,1882.5 1661.75,1882.5 1661.75,1841.25"/>
<rect class="w" x="1848" y="1837" width="73.25" height="6"/>
<rect class="w" x="1855.5" y="1843" width="7" height="28.25"/>
<rect class="w" x="1855.5" y="1975" width="7" height="27.5"/>
<rect class="w" x="1900.5" y="1843" width="7" height="159.5"/>
<rect class="w" x="1850" y="2002.5" width="65" height="6.75"/>
<polygon class="w" points="1907.5,1992.5 1927.5,2012.5 1922.5,2017.5 1903.75,2002.5"/>
<rect class="win" x="1576" y="1896.25" width="11" height="56.25"/>
<line class="wbar" x1="1581.5" y1="1900.25" x2="1581.5" y2="1948.5"/>
<line class="wl2" x1="1576" y1="1898.45" x2="1587" y2="1898.45"/>
<line class="wl2" x1="1576" y1="1950.3" x2="1587" y2="1950.3"/>
<text x="1618.75" y="1916.25" font-size="32" text-anchor="start" textLength="93.75" lengthAdjust="spacingAndGlyphs" class="c">Laundry</text>
<text x="1611.25" y="1948.75" font-size="23.5" text-anchor="start" textLength="111.25" lengthAdjust="spacingAndGlyphs" class="c">10’0” x 5’10”</text>
<text x="1609.5" y="1972" font-size="17" text-anchor="start" textLength="30.5" lengthAdjust="spacingAndGlyphs" class="c">OPT</text>
<text x="1625.5" y="1988.75" font-size="17" text-anchor="middle" class="c">D</text>
<text x="1664.5" y="1972" font-size="17" text-anchor="start" textLength="31" lengthAdjust="spacingAndGlyphs" class="c">OPT</text>
<text x="1680.75" y="1988.75" font-size="17" text-anchor="middle" class="c">W</text>
<text x="1689.5" y="2065" font-size="42" text-anchor="start" textLength="144.25" lengthAdjust="spacingAndGlyphs">Optional</text>
<text x="1691.25" y="2116.25" font-size="42" text-anchor="start" textLength="141.25" lengthAdjust="spacingAndGlyphs">Laundry</text>
<line class="tc" x1="2066.25" y1="1800" x2="2066.25" y2="1903.75"/>
<polygon class="tw" points="2065,1802.5 2102.5,1836.25 2104.51,1834.02 2067.01,1800.27"/>
<polygon class="tw" points="2065,1901.25 2102.5,1865 2104.59,1867.16 2067.09,1903.41"/>
<path class="t" d="M2102.5 1836.25A50 50 0 0 1 2068.75 1850"/>
<path class="t" d="M2102.5 1865A50 50 0 0 0 2068.75 1850"/>
<rect class="tw" x="2061.75" y="1800" width="7" height="4"/>
<rect class="tw" x="2061.75" y="1900" width="7" height="3.75"/>
<line class="tk" x1="2296" y1="2003.75" x2="2296" y2="2014"/>
<rect class="w" x="2061.75" y="1741.25" width="7" height="58.75"/>
<rect class="w" x="2061.75" y="1903.75" width="7" height="100"/>
<rect class="w" x="2068.75" y="1759.5" width="220.75" height="7.25"/>
<rect class="w" x="2289.5" y="1743" width="7" height="260.75"/>
<rect class="w" x="2061.75" y="1996.25" width="57" height="7.5"/>
<rect class="w" x="2237.5" y="1996.25" width="59" height="7.5"/>
<rect class="w" x="2047" y="1937.5" width="14.75" height="7.5"/>
<rect class="win" x="2288" y="1781.25" width="10" height="60"/>
<line class="wbar" x1="2293" y1="1785.25" x2="2293" y2="1837.25"/>
<line class="wl2" x1="2288" y1="1783.45" x2="2298" y2="1783.45"/>
<line class="wl2" x1="2288" y1="1839.05" x2="2298" y2="1839.05"/>
<rect class="win" x="2118.75" y="1994.75" width="118.75" height="10.5"/>
<line class="wbar" x1="2122.75" y1="2000" x2="2233.5" y2="2000"/>
<line class="wl2" x1="2120.95" y1="1994.75" x2="2120.95" y2="2005.25"/>
<line class="wl2" x1="2235.3" y1="1994.75" x2="2235.3" y2="2005.25"/>
<rect class="win" x="2176.25" y="1994.75" width="4" height="10.5"/>
<text x="2148" y="1882" font-size="32" text-anchor="start" textLength="65" lengthAdjust="spacingAndGlyphs" class="c">Study</text>
<text x="2125.5" y="1913.75" font-size="23.5" text-anchor="start" textLength="112" lengthAdjust="spacingAndGlyphs" class="c">11’6” x 11’9”</text>
<text x="2102.5" y="2064.5" font-size="42" text-anchor="start" textLength="144.5" lengthAdjust="spacingAndGlyphs">Optional</text>
<text x="2126.25" y="2114.5" font-size="42" text-anchor="start" textLength="97.5" lengthAdjust="spacingAndGlyphs">Study</text>
</g>
<g id="txt">
<text x="106" y="134" font-size="33" text-anchor="start" textLength="151" lengthAdjust="spacingAndGlyphs">7001/7002</text>
<text x="2061" y="247.5" font-size="121" text-anchor="start" textLength="734" lengthAdjust="spacingAndGlyphs" class="s" font-weight="bold" font-style="italic">The Charleston</text>
<text x="2049.5" y="323.75" font-size="64" text-anchor="start" textLength="950.5" lengthAdjust="spacingAndGlyphs" class="s" font-style="italic">An Innovative and Open Floor Plan...</text>
<circle cx="2061.2" cy="372" r="6.5" fill="#1b1d20"/>
<text x="2078.75" y="381.5" font-size="40" text-anchor="start" textLength="996.05" lengthAdjust="spacingAndGlyphs" class="s" xml:space="preserve">Open traditional design offering formal Living  and Dining Areas.</text>
<circle cx="2061.2" cy="420.5" r="6.5" fill="#1b1d20"/>
<text x="2078.75" y="430" font-size="40" text-anchor="start" textLength="802.95" lengthAdjust="spacingAndGlyphs" class="s" xml:space="preserve">Spacious Master Bedroom with large Walk-In Closet.</text>
<circle cx="2061.2" cy="468.5" r="6.5" fill="#1b1d20"/>
<text x="2078.75" y="478" font-size="40" text-anchor="start" textLength="976.25" lengthAdjust="spacingAndGlyphs" class="s" xml:space="preserve">Three large secondary Bedrooms and Guest Bedroom with Bath.</text>
<circle cx="2061.2" cy="517.5" r="6.5" fill="#1b1d20"/>
<text x="2078.75" y="527" font-size="40" text-anchor="start" textLength="219.25" lengthAdjust="spacingAndGlyphs" class="s" xml:space="preserve">Optional Loft.</text>
<text x="120.6" y="2116.5" font-size="66" text-anchor="start" textLength="764.4" lengthAdjust="spacingAndGlyphs" class="s" font-style="italic">Distinctive Design Features...</text>
<circle cx="130.3" cy="2157.1" r="6.5" fill="#1b1d20"/>
<text x="148.6" y="2166.6" font-size="40" text-anchor="start" textLength="487.1" lengthAdjust="spacingAndGlyphs" class="s">Trey ceiling in Master Bedroom.</text>
<circle cx="130.3" cy="2205.3" r="6.5" fill="#1b1d20"/>
<text x="148.6" y="2214.8" font-size="40" text-anchor="start" textLength="434.4" lengthAdjust="spacingAndGlyphs" class="s">9 foot ceilings on First Floor.</text>
<circle cx="130.3" cy="2253.5" r="6.5" fill="#1b1d20"/>
<text x="148.6" y="2263" font-size="40" text-anchor="start" textLength="291.4" lengthAdjust="spacingAndGlyphs" class="s">Optional Fireplace.</text>
<text x="124" y="2358.5" font-size="38.5" text-anchor="start" textLength="1488" lengthAdjust="spacingAndGlyphs" style="fill:#1c5cba;stroke:#1c5cba;stroke-width:0.4px">Floorplans reflect typical approximate dimensions. We reserve the right to make changes without notice.</text>
<text x="1629.4" y="2358.5" font-size="36.5" text-anchor="start" textLength="81.6" lengthAdjust="spacingAndGlyphs" style="fill:#1c5cba">5/14</text>
<polygon class="lg" points="2948.3,2145 2785.6,2145 2748.7,2181.3 2855.1,2181.3 2844.8,2192.3 2738.3,2192.3 2701.3,2227.2 2812.2,2227.2 2801,2239 2682.1,2239 2637.2,2276 2825.6,2276"/>
<polygon class="lb" points="2785.7,2145 2948.4,2145 2985.3,2181.3 2878.9,2181.3 2889.2,2192.3 2995.7,2192.3 3032.7,2227.2 2921.8,2227.2 2933,2239 3051.9,2239 3096.8,2276 2908.4,2276"/>
<text x="2631.3" y="2350.8" font-size="91" text-anchor="start" textLength="473.8" lengthAdjust="spacingAndGlyphs" class="s" font-weight="bold" style="fill:#1d5abc">EASTWOOD</text>
<rect x="2631" y="2367" width="472.6" height="1.6" style="fill:#1d5abc"/>
<text x="2645.2" y="2400.2" font-size="25" text-anchor="middle" class="s" font-weight="bold" style="fill:#1d5abc">H</text>
<text x="2758.2" y="2400.2" font-size="25" text-anchor="middle" class="s" font-weight="bold" style="fill:#1d5abc">O</text>
<text x="2873" y="2400.2" font-size="25" text-anchor="middle" class="s" font-weight="bold" style="fill:#1d5abc">M</text>
<text x="2984.2" y="2400.2" font-size="25" text-anchor="middle" class="s" font-weight="bold" style="fill:#1d5abc">E</text>
<text x="3091.8" y="2400.2" font-size="25" text-anchor="middle" class="s" font-weight="bold" style="fill:#1d5abc">S</text>
</g>
</svg>
</body></html>
